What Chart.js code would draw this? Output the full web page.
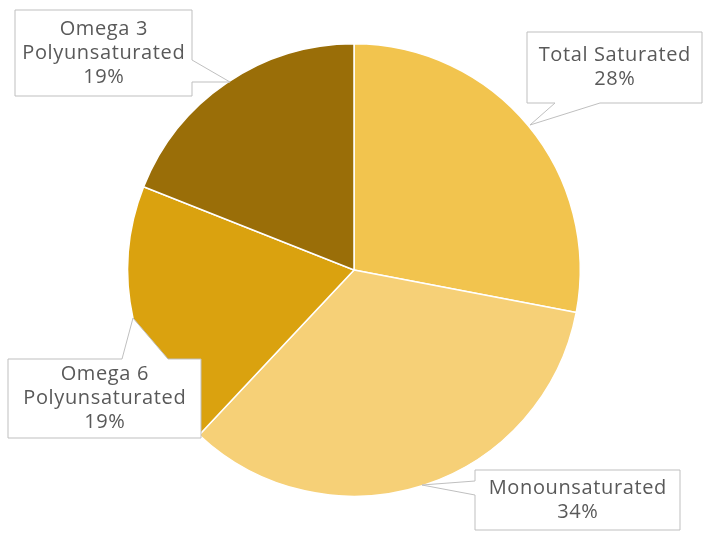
<!DOCTYPE html>
<html>
<head>
<meta charset="utf-8">
<script src="https://cdn.jsdelivr.net/npm/chart.js@4/dist/chart.umd.min.js"></script>
<style>
html,body{margin:0;padding:0;background:#fff;}
#wrap{width:707px;height:540px;}
</style>
</head>
<body>
<div id="wrap"><canvas id="c" width="707" height="540"></canvas></div>
<script>
const categories = ["Total Saturated", "Monounsaturated", "Omega 6 Polyunsaturated", "Omega 3 Polyunsaturated"];
const labelLines = [["Total Saturated"], ["Monounsaturated"], ["Omega 6", "Polyunsaturated"], ["Omega 3", "Polyunsaturated"]];
const values = [28, 34, 19, 19];
const colors = ["#F2C44E", "#F6D077", "#DAA20F", "#9A6E08"];

// callout box layout: box rect, pointer base (side + two offsets), tip point
const callouts = [
  {x:527, y:32, w:175, h:71, side:"bottom", b1:555, b2:600, tip:[530,125]},
  {x:475, y:470, w:205, h:60, side:"left", b1:481, b2:495, tip:[422,485]},
  {x:8, y:359, w:193, h:79, side:"top", b1:122, b2:168, tip:[133,318]},
  {x:15, y:10, w:177, h:86, side:"right", b1:60, b2:82, tip:[230,82]}
];

function calloutPath(ctx, c) {
  const {x,y,w,h} = c;
  ctx.beginPath();
  if (c.side === "bottom") {
    ctx.moveTo(x,y); ctx.lineTo(x+w,y); ctx.lineTo(x+w,y+h);
    ctx.lineTo(c.b2,y+h); ctx.lineTo(c.tip[0],c.tip[1]); ctx.lineTo(c.b1,y+h);
    ctx.lineTo(x,y+h); ctx.closePath();
  } else if (c.side === "left") {
    ctx.moveTo(x,y); ctx.lineTo(x+w,y); ctx.lineTo(x+w,y+h); ctx.lineTo(x,y+h);
    ctx.lineTo(x,c.b2); ctx.lineTo(c.tip[0],c.tip[1]); ctx.lineTo(x,c.b1); ctx.closePath();
  } else if (c.side === "top") {
    ctx.moveTo(x,y); ctx.lineTo(c.b1,y); ctx.lineTo(c.tip[0],c.tip[1]); ctx.lineTo(c.b2,y);
    ctx.lineTo(x+w,y); ctx.lineTo(x+w,y+h); ctx.lineTo(x,y+h); ctx.closePath();
  } else {
    ctx.moveTo(x,y); ctx.lineTo(x+w,y); ctx.lineTo(x+w,c.b1); ctx.lineTo(c.tip[0],c.tip[1]);
    ctx.lineTo(x+w,c.b2); ctx.lineTo(x+w,y+h); ctx.lineTo(x,y+h); ctx.closePath();
  }
}

const calloutPlugin = {
  id: 'callouts',
  afterDatasetsDraw(chart) {
    const ctx = chart.ctx;
    const ds = chart.data.datasets[0].data;
    const total = ds.reduce((a,b)=>a+b,0);
    ctx.save();
    callouts.forEach((c) => {
      calloutPath(ctx, c);
      ctx.fillStyle = "#ffffff";
      ctx.fill();
      ctx.strokeStyle = "#BFBFBF";
      ctx.lineWidth = 1;
      ctx.stroke();
    });
    ctx.font = "400 20px 'Open Sans'";
    ctx.letterSpacing = "0px";
    const w0 = ctx.measureText("Polyunsaturated").width;
    const sp = Math.max(0, (163 - w0) / 15);
    ctx.letterSpacing = sp.toFixed(2) + "px";
    ctx.fillStyle = "#595959";
    ctx.textAlign = "center";
    ctx.textBaseline = "middle";
    callouts.forEach((c, i) => {
      const lines = labelLines[i].concat([Math.round(ds[i]/total*100) + "%"]);
      const lh = 24;
      const cx = c.x + c.w/2 + sp/2;
      const cy = c.y + c.h/2;
      const start = cy - (lines.length-1)*lh/2;
      lines.forEach((t, j) => ctx.fillText(t, cx, start + j*lh));
    });
    ctx.restore();
  }
};

new Chart(document.getElementById('c'), {
  type: 'pie',
  data: {
    labels: categories,
    datasets: [{
      data: values,
      backgroundColor: colors,
      borderColor: "#ffffff",
      borderWidth: 1.5
    }]
  },
  options: {
    responsive: false,
    animation: false,
    layout: { padding: { top: 43, bottom: 43, left: 127, right: 126 } },
    plugins: { legend: { display: false }, tooltip: { enabled: false } }
  },
  plugins: [calloutPlugin]
});
</script>
</body>
</html>
